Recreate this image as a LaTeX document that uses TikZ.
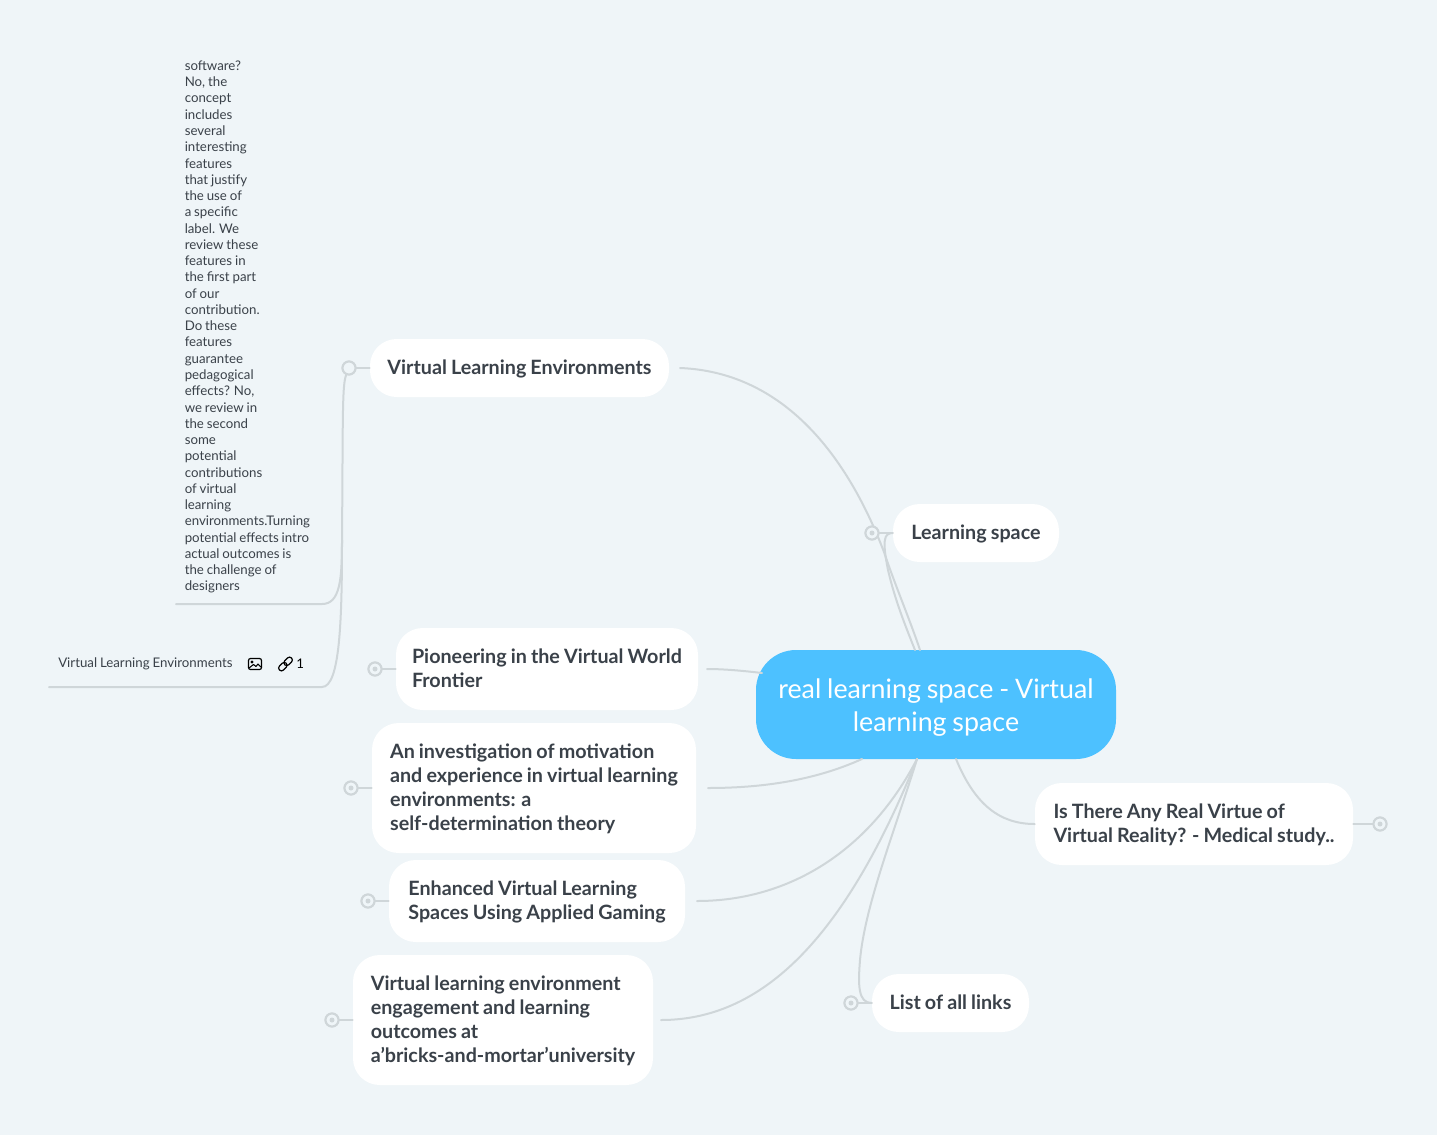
\documentclass[tikz,border=0pt]{standalone}
\usepackage{fontspec}
\setmainfont[WordSpace=0.85]{Lato}
\usepackage{tikz}
\usetikzlibrary{arrows}

\definecolor{paper}{HTML}{EFF5F8}
\definecolor{wire}{HTML}{CFD6D9}
\definecolor{ink}{HTML}{3A4149}
\definecolor{sky}{HTML}{4DC1FF}

\newcommand{\lead}{\rule{0pt}{13.3pt}}

\begin{document}
\begin{tikzpicture}[x=0.75pt,y=-0.75pt,line cap=round,
    wire line/.style={draw=wire,line width=1.5pt},
    main node/.style={rectangle,fill=white,rounded corners=20pt,text=ink,align=left,
        font=\fontsize{14.8}{18}\selectfont\bfseries,inner sep=0pt,
        execute at end node={\rule[-4pt]{0pt}{4pt}}},
    root node/.style={rectangle,fill=sky,rounded corners=30pt,text=white,align=center,
        font=\fontsize{20.1}{24.75}\selectfont,inner sep=0pt,minimum width=270pt,minimum height=81.75pt},
    knob/.style={circle,draw=wire,line width=1.5pt,fill=paper,minimum size=9.75pt,inner sep=0pt},
    dot/.style={circle,fill=wire,minimum size=3.75pt,inner sep=0pt},
    note/.style={text=ink,align=left,inner sep=0pt,font=\fontsize{9.95}{12.2}\selectfont}]

  \fill[paper] (0,0) rectangle (1437,1135);
  \useasboundingbox (0,0) rectangle (1437,1135);

  % free ends of the curves
  \coordinate (rootA) at (920,650);
  \coordinate (rootB) at (915,650);
  \coordinate (rootC) at (762,673);
  \coordinate (rootD) at (862,759);
  \coordinate (rootE) at (917,759);
  \coordinate (rootF) at (956,759);
  \coordinate (vleEnd) at (680,368);
  \coordinate (pionEnd) at (707,669);
  \coordinate (invEnd) at (708,788);
  \coordinate (enhEnd) at (697,901);
  \coordinate (engEnd) at (661,1020);
  \coordinate (noteEnd) at (176,604);
  \coordinate (webEnd) at (49,687);
  \coordinate (noteBend) at (322,604);
  \coordinate (webBend) at (322,687);
  \coordinate (trunk) at (342,540);

  \node[main node,minimum width=224.25pt,minimum height=43.5pt] (vle) at (519.5,368) {\lead Virtual Learning Environments};
  \node[main node,minimum width=226.5pt,minimum height=61.5pt] (pion) at (547,669) {\lead Pioneering in the Virtual World\\Frontier};
  \node[main node,minimum width=243pt,minimum height=97.5pt] (inv) at (534,788) {\lead An investigation of motivation\\and experience in virtual learning\\environments: a\\self-determination theory};
  \node[main node,minimum width=222pt,minimum height=61.5pt] (enh) at (537,901) {\lead Enhanced Virtual Learning\\Spaces Using Applied Gaming};
  \node[main node,minimum width=225pt,minimum height=97.5pt] (eng) at (503,1020) {\lead Virtual learning environment\\engagement and learning\\outcomes at\\a’bricks-and-mortar’university};
  \node[main node,minimum width=124.5pt,minimum height=43.5pt] (space) at (976,533) {\lead Learning space};
  \node[main node,minimum width=238.5pt,minimum height=61.5pt] (virtue) at (1194,824) {\lead Is There Any Real Virtue of\\Virtual Reality? - Medical study..};
  \node[main node,minimum width=117.75pt,minimum height=43.5pt] (links) at (950.5,1003) {\lead List of all links};
  \node[root node] (root) at (936,704.5) {\rule{0pt}{20pt}real learning space - Virtual\\learning space};

  \node[knob] (vleKnob) at (349,368) {};
  \node[knob] (pionKnob) at (375,669) {};
  \node[knob] (invKnob) at (351,788) {};
  \node[knob] (enhKnob) at (368,901) {};
  \node[knob] (engKnob) at (332,1020) {};
  \node[knob] (spaceKnob) at (872,533) {};
  \node[knob] (virtueKnob) at (1380,824) {};
  \node[knob] (linksKnob) at (851,1003) {};

  \path[wire line]
    (vleKnob) edge (vle)
    (pionKnob) edge (pion)
    (invKnob) edge (inv)
    (enhKnob) edge (enh)
    (engKnob) edge (eng)
    (spaceKnob) edge (space)
    (virtueKnob) edge (virtue)
    (linksKnob) edge (links);

  \draw[wire line] (vleEnd) .. controls (780,372) and (845,450) .. (884,552) .. controls (895,585) and (910,620) .. (rootA);
  \draw[wire line] (space.west) .. controls (884,533) and (882,540) .. (888,570) .. controls (895,600) and (905,625) .. (rootB);
  \draw[wire line] (pionEnd) .. controls (725,669) and (745,671) .. (rootC);
  \draw[wire line] (invEnd) .. controls (770,788) and (820,778) .. (rootD);
  \draw[wire line] (enhEnd) .. controls (790,901) and (870,850) .. (rootE);
  \draw[wire line] (engEnd) .. controls (770,1020) and (850,925) .. (rootE);
  \draw[wire line] (links.west) .. controls (858,1003) and (858,985) .. (860,960) .. controls (865,905) and (895,830) .. (rootE);
  \draw[wire line] (rootF) .. controls (975,805) and (1000,824) .. (virtue.west);
  \draw[wire line] (vleKnob) .. controls (342,385) and (343,420) .. (trunk) .. controls (342,580) and (340,604) .. (noteBend) -- (noteEnd);
  \draw[wire line] (trunk) .. controls (342,620) and (340,687) .. (webBend) -- (webEnd);

  % rings sit above the wires
  \node[knob] at (vleKnob) {};
  \foreach \k in {pionKnob,invKnob,enhKnob,engKnob,spaceKnob,virtueKnob,linksKnob}
    {\node[knob] at (\k) {}; \node[dot] at (\k) {};}

  \node[note,anchor=north west] (noteText) at (184.5,60.5) {software?\\No, the\\concept\\includes\\several\\interesting\\features\\that justify\\the use of\\a specific\\label. We\\review these\\features in\\the first part\\of our\\contribution.\\Do these\\features\\guarantee\\pedagogical\\effects? No,\\we review in\\the second\\some\\potential\\contributions\\of virtual\\learning\\environments.Turning\\potential effects intro\\actual outcomes is\\the challenge of\\designers};
  \node[note,anchor=west] (webText) at (58,663.5) {Virtual Learning Environments};
  \node[note,anchor=west,text=black] (webCount) at (296,664) {1};

  % image and link icons
  \draw[black,line width=0.9pt,rounded corners=1.5pt] (248.5,658.5) rectangle (261.5,669.5);
  \fill[black] (252,662) circle (1.2pt);
  \draw[black,line width=0.8pt,line join=round] (249,668) -- (253.5,664.5) -- (256,666.5) -- (258,664) -- (261,667);
  \draw[black,line width=0.9pt,rounded corners=2pt,rotate around={45:(285.5,664)}] (277,661.2) rectangle (286.5,666.8);
  \draw[black,line width=0.9pt,rounded corners=2pt,rotate around={45:(285.5,664)}] (284.5,661.2) rectangle (294,666.8);
\end{tikzpicture}
\end{document}
